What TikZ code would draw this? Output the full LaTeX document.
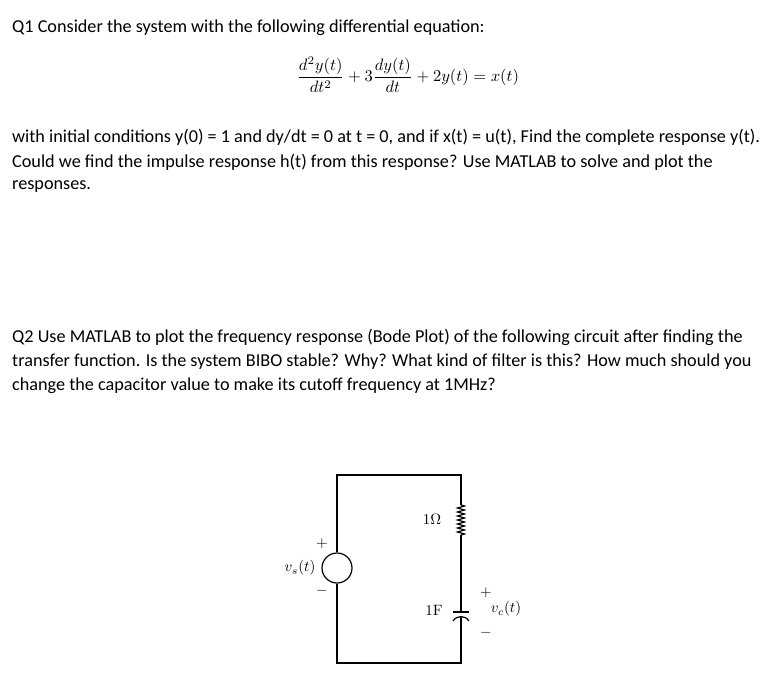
\documentclass[tikz,border=0pt]{standalone}
\usepackage[no-math]{fontspec}
\usepackage{graphicx}
\setmainfont{Carlito}
\usetikzlibrary{decorations.pathmorphing}
\begin{document}
\begin{tikzpicture}[x=1pt,y=-1pt,
  txt/.style={anchor=west,inner sep=0pt,font=\fontsize{18.2}{21}\selectfont},
  lm/.style={inner sep=0pt},
  wire/.style={line width=1.2pt}]
\useasboundingbox (0,0) rectangle (771,696);
\fill[white] (0,0) rectangle (771,696);
\node[txt] (l1) at (12,28) {Q1 Consider the system with the following differential equation:};
\node[lm] (eq) at (408,75) {\scalebox{1.65}{$\displaystyle \frac{d^2y(t)}{dt^2}+3\frac{dy(t)}{dt}+2y(t)=x(t)$}};
\node[txt] (l2) at (12,137) {with initial conditions y(0) = 1 and dy/dt = 0 at t = 0, and if x(t) = u(t), Find the complete response y(t).};
\node[txt] (l3) at (12,162) {Could we find the impulse response h(t) from this response? Use MATLAB to solve and plot the};
\node[txt] (l4) at (12,187) {responses.};
\node[txt] (l5) at (12,337) {Q2 Use MATLAB to plot the frequency response (Bode Plot) of the following circuit after finding the};
\node[txt] (l6) at (12,362) {transfer function. Is the system BIBO stable? Why? What kind of filter is this? How much should you};
\node[txt] (l7) at (12,386) {change the capacitor value to make its cutoff frequency at 1MHz?};
% circuit
\node[draw,circle,wire,minimum size=30pt,inner sep=0pt] (vs) at (337,568) {};
\coordinate (tl) at (337,475); \coordinate (tr) at (461,475);
\coordinate (bl) at (337,663); \coordinate (br) at (461,663);
\coordinate (r1) at (461,505); \coordinate (r2) at (461,535);
\coordinate (c1) at (461,612); \coordinate (c2) at (461,617);
\draw[wire] (vs.north) -- (tl) -- (tr) -- (r1);
\draw[wire,decorate,decoration={zigzag,segment length=4pt,amplitude=3.5pt}] (r1) -- (r2);
\draw[wire] (r2) -- (c1);
\draw[wire] (453,612) -- (469,612);
\draw[wire] (453,621) .. controls (457,615) and (465,615) .. (469,621);
\draw[wire] (c2) -- (br) -- (bl) -- (vs.south);
\node[lm] (rl) at (432,519) {\scalebox{1.5}{$1\Omega$}};
\node[lm] (cl) at (434,610) {\scalebox{1.5}{$1\mathrm{F}$}};
\node[lm] (vsl) at (300,568) {\scalebox{1.5}{$v_s(t)$}};
\node[lm] (p1) at (322,544) {\scalebox{1.5}{$+$}};
\node[lm] (m1) at (322,591) {\scalebox{1.5}{$-$}};
\node[lm] (p2) at (486,593) {\scalebox{1.5}{$+$}};
\node[lm] (vcl) at (506,609) {\scalebox{1.5}{$v_c(t)$}};
\node[lm] (m2) at (486,633) {\scalebox{1.5}{$-$}};
\end{tikzpicture}
\end{document}
